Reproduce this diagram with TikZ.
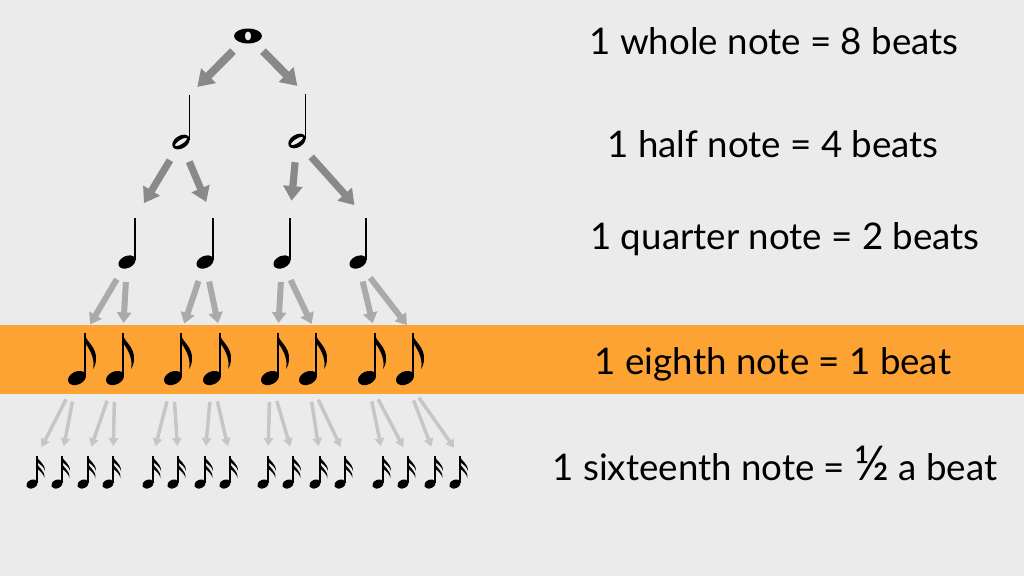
\documentclass[tikz,border=0pt]{standalone}
\usepackage{fontspec}
\setmainfont{Lato}
\usetikzlibrary{arrows.meta}
\definecolor{bggray}{RGB}{235,235,235}
\definecolor{bandorange}{RGB}{252,163,52}
\definecolor{arrgrayA}{RGB}{137,137,137}
\definecolor{arrgrayC}{RGB}{170,170,170}
\definecolor{arrgrayD}{RGB}{198,198,198}
\tikzset{
  beatlabel/.style={anchor=base, inner sep=0pt, font=\fontsize{27.5}{32}\selectfont},
  arrA/.style={draw=arrgrayA, line width=6pt, -{Triangle[width=15pt,length=12pt]}, shorten <=16pt, shorten >=8.5pt},
  arrB/.style={draw=arrgrayA, line width=5.4pt, -{Triangle[width=14pt,length=11pt]}, shorten <=16pt, shorten >=13pt},
  arrC/.style={draw=arrgrayC, line width=4.5pt, -{Triangle[width=10.5pt,length=8pt]}, shorten <=15pt, shorten >=7.5pt},
  arrD/.style={draw=arrgrayD, line width=2.6pt, -{Triangle[width=7pt,length=6pt]}, shorten <=18pt, shorten >=7.5pt},
  whole/.pic={
    \fill[even odd rule] (0,0) ellipse [x radius=14, y radius=7.5] (0,0) ellipse [x radius=3.2, y radius=4.6];
    \coordinate (-head) at (0,0);},
  half/.pic={
    \fill[even odd rule, rotate=32] (0,0) ellipse [x radius=9.5, y radius=6.3] (0,0) ellipse [x radius=7, y radius=2.2];
    \draw[line width=1.1pt] (8.3,-2) -- (8.3,-47);
    \coordinate (-head) at (0,0); \coordinate (-top) at (8.3,-47);},
  quarter/.pic={
    \fill[rotate=25] (0,0) ellipse [x radius=9, y radius=6];
    \draw[line width=1.5pt] (8,-2) -- (8,-44);
    \coordinate (-head) at (0,0); \coordinate (-top) at (8,-44);},
  eighth/.pic={
    \fill[rotate=25] (0,0) ellipse [x radius=9.5, y radius=6.5];
    \draw[line width=1.6pt] (8,-2) -- (8,-45);
    \fill (7.4,-45) .. controls (8.5,-36) and (20,-32) .. (19,-18) .. controls (18.6,-14) and (17.6,-11) .. (16,-9)
      .. controls (17.6,-15) and (16,-25) .. (8,-35) -- cycle;
    \coordinate (-head) at (0,0); \coordinate (-top) at (8,-45);},
  sixteenth/.pic={
    \fill[rotate=25] (0,0) ellipse [x radius=6, y radius=4.2];
    \draw[line width=1.1pt] (5,-1) -- (5,-28);
    \fill (4.6,-28) .. controls (6,-23) and (13,-21) .. (13,-13) .. controls (12,-17) and (9,-19) .. (5,-22) -- cycle;
    \fill (4.6,-21.5) .. controls (6,-16) and (13,-14) .. (12.5,-6) .. controls (11.5,-10) and (9,-12) .. (5,-15.5) -- cycle;
    \coordinate (-head) at (0,0); \coordinate (-top) at (5,-28);}
}
\begin{document}
\begin{tikzpicture}[x=0.75pt, y=-0.75pt]
  \useasboundingbox (0,0) rectangle (1024,576);
  \fill[bggray] (0,0) rectangle (1024,576);
  \fill[bandorange] (0,325) rectangle (1024,394);

  % notes
  \pic (w) at (248,36) {whole};
  \pic (h1) at (181,142) {half};
  \pic (h2) at (297,141) {half};
  \pic (q1) at (127,262) {quarter};
  \pic (q2) at (205,262) {quarter};
  \pic (q3) at (282,262) {quarter};
  \pic (q4) at (358,262) {quarter};
  \pic (e1) at (77,378) {eighth};
  \pic (e2) at (115,378) {eighth};
  \pic (e3) at (173,378) {eighth};
  \pic (e4) at (212,378) {eighth};
  \pic (e5) at (270,378) {eighth};
  \pic (e6) at (308,378) {eighth};
  \pic (e7) at (367,378) {eighth};
  \pic (e8) at (405,378) {eighth};
  \pic (s1) at (32,484) {sixteenth};
  \pic (s2) at (57,484) {sixteenth};
  \pic (s3) at (83,484) {sixteenth};
  \pic (s4) at (108,484) {sixteenth};
  \pic (s5) at (148,484) {sixteenth};
  \pic (s6) at (173,484) {sixteenth};
  \pic (s7) at (200,484) {sixteenth};
  \pic (s8) at (225,484) {sixteenth};
  \pic (s9) at (263,484) {sixteenth};
  \pic (s10) at (288,484) {sixteenth};
  \pic (s11) at (315,484) {sixteenth};
  \pic (s12) at (340,484) {sixteenth};
  \pic (s13) at (378,484) {sixteenth};
  \pic (s14) at (403,484) {sixteenth};
  \pic (s15) at (430,484) {sixteenth};
  \pic (s16) at (455,484) {sixteenth};

  % arrows
  \draw[arrA] (w-head) -- (h1-top);
  \draw[arrA] (w-head) -- (h2-top);
  \draw[arrB] (h1-head) -- (q1-top);
  \draw[arrB] (h1-head) -- (q2-top);
  \draw[arrB] (h2-head) -- (q3-top);
  \draw[arrB] (h2-head) -- (q4-top);
  \draw[arrC] (q1-head) -- (e1-top);
  \draw[arrC] (q1-head) -- (e2-top);
  \draw[arrC] (q2-head) -- (e3-top);
  \draw[arrC] (q2-head) -- (e4-top);
  \draw[arrC] (q3-head) -- (e5-top);
  \draw[arrC] (q3-head) -- (e6-top);
  \draw[arrC] (q4-head) -- (e7-top);
  \draw[arrC] (q4-head) -- (e8-top);
  \draw[arrD] (e1-head) -- (s1-top);
  \draw[arrD] (e1-head) -- (s2-top);
  \draw[arrD] (e2-head) -- (s3-top);
  \draw[arrD] (e2-head) -- (s4-top);
  \draw[arrD] (e3-head) -- (s5-top);
  \draw[arrD] (e3-head) -- (s6-top);
  \draw[arrD] (e4-head) -- (s7-top);
  \draw[arrD] (e4-head) -- (s8-top);
  \draw[arrD] (e5-head) -- (s9-top);
  \draw[arrD] (e5-head) -- (s10-top);
  \draw[arrD] (e6-head) -- (s11-top);
  \draw[arrD] (e6-head) -- (s12-top);
  \draw[arrD] (e7-head) -- (s13-top);
  \draw[arrD] (e7-head) -- (s14-top);
  \draw[arrD] (e8-head) -- (s15-top);
  \draw[arrD] (e8-head) -- (s16-top);

  % labels
  \node[beatlabel] (whole-txt) at (774,54) {1 whole note = 8 beats};
  \node[beatlabel] (half-txt) at (773,157) {1 half note = 4 beats};
  \node[beatlabel] (quarter-txt) at (785,249) {1 quarter note = 2 beats};
  \node[beatlabel] (eighth-txt) at (773,374) {1 eighth note = 1 beat};
  \node[beatlabel] (sixteenth-txt) at (775,480) {1 sixteenth note = {\fontsize{36}{36}\selectfont ½} a beat};
\end{tikzpicture}
\end{document}
